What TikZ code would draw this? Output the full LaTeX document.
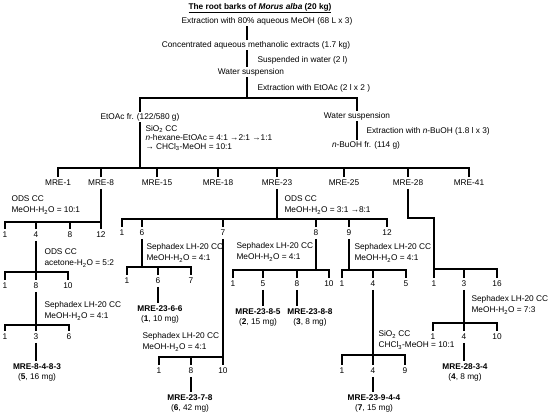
\documentclass[tikz,border=0pt]{standalone}
\usepackage{fontspec}
\setmainfont{Liberation Sans}
\begin{document}
\begin{tikzpicture}[x=1pt,y=-1pt,line width=1.1pt,
    every node/.style={font=\fontsize{8.3}{11}\selectfont,inner sep=1pt},
    txt/.style={anchor=west,align=left},
    num/.style={inner sep=2.5pt},
    cpd/.style={anchor=north,align=center,inner sep=2pt,font=\fontsize{8.3}{10.5}\selectfont}]

\useasboundingbox (0,0) rectangle (550,414);

%draws the extraction steps at the top
\coordinate (spine) at (247,0);
\draw (260,8) node (root) {\textbf{\underline{The root barks of \textit{Morus alba} (20 kg)}}};
\draw (267,21) node (ext1) {Extraction with 80\% aqueous MeOH (68 L x 3)};
\draw (256,45) node (conc) {Concentrated aqueous methanolic extracts (1.7 kg)};
\draw (256,60) node[txt] (susp) {Suspended in water (2 l)};
\draw (251,72) node (ws) {Water suspension};
\draw (256,88) node[txt] (ext2) {Extraction with EtOAc (2 l x 2 )};
\draw (140,117) node (etoac) {EtOAc fr. (122/580 g)};
\draw (357,116) node (wsr) {Water suspension};
\draw (365,131) node[txt] (ext3) {Extraction with \textit{n}-BuOH (1.8 l x 3)};
\draw (366,145) node (buoh) {\textit{n}-BuOH fr. (114 g)};
\draw (144,138) node[txt,font=\fontsize{8.3}{9.2}\selectfont] (csio) {SiO\textsubscript{2} CC\\\textit{n}-hexane-EtOAc = 4:1 →2:1 →1:1\\→ CHCl\textsubscript{3}-MeOH = 10:1};

\coordinate (split) at (247,98);
\draw (ext1.south -| spine) -- (conc.north -| spine);
\draw (conc.south -| spine) -- (ws.north -| spine);
\draw (ws.south -| spine) -- (split);
\draw (etoac.north) |- (split) -| (wsr.north);
\draw (wsr.south) -- (wsr.south |- buoh.north);

%draws the MRE fractions
\coordinate (mre) at (140,168);
\foreach \x/\n in {58/1,101/8,157/15,218/18,277/23,344/25,408/28,469/41}
    \draw (\x,183) node[num] (mre\n) {MRE-\n};
\draw (etoac.south) -- (mre);
\draw (mre1.north) |- (mre) -| (mre41.north);
\foreach \n in {8,15,18,23,25,28}
    \draw (mre\n.north) -- (mre\n.north |- mre);

%MRE-8 branch
\draw (10,205) node[txt] (cm8) {ODS CC\\MeOH-H\textsubscript{2}O = 10:1};
\coordinate (bp) at (101,222);
\foreach \x/\t in {5/1,36/4,70/8,101/12}
    \draw (\x,235) node[num] (p\t) {\t};
\draw (mre8.south) -- (bp);
\draw (p1.north) |- (bp) -| (p12.north);
\foreach \t in {4,8}
    \draw (p\t.north) -- (p\t.north |- bp);

\draw (43,258) node[txt] (cp4) {ODS CC\\acetone-H\textsubscript{2}O = 5:2};
\coordinate (bq) at (36,272);
\foreach \x/\t in {5/1,36/8,68/10}
    \draw (\x,286) node[num] (q\t) {\t};
\draw (p4.south) -- (bq);
\draw (q1.north) |- (bq) -| (q10.north);
\draw (q8.north) -- (q8.north |- bq);

\draw (43,311) node[txt] (cq8) {Sephadex LH-20 CC\\MeOH-H\textsubscript{2}O = 4:1};
\coordinate (br) at (36,325);
\foreach \x/\t in {5/1,36/3,69/6}
    \draw (\x,337) node[num] (r\t) {\t};
\draw (q8.south) -- (br);
\draw (r1.north) |- (br) -| (r6.north);
\draw (r3.north) -- (r3.north |- br);
\draw (37,361) node[cpd] (k5) {\textbf{MRE-8-4-8-3}\\(\textbf{5}, 16 mg)};
\draw (r3.south) -- (r3.south |- k5.north);

%MRE-23 branch
\draw (283,205) node[txt] (cm23) {ODS CC\\MeOH-H\textsubscript{2}O = 3:1 →8:1};
\coordinate (bs) at (277,219);
\foreach \x/\t in {122/1,142/6,223/7,316/8,349/9,387/12}
    \draw (\x,233) node[num] (s\t) {\t};
\draw (mre23.south) -- (bs);
\draw (s1.north) |- (bs) -| (s12.north);
\foreach \t in {6,7,8,9}
    \draw (s\t.north) -- (s\t.north |- bs);

% fraction 6
\draw (145,253) node[txt] (cs6) {Sephadex LH-20 CC\\MeOH-H\textsubscript{2}O = 4:1};
\coordinate (bt) at (142,267);
\foreach \x/\t in {127/1,158/6,191/7}
    \draw (\x,281) node[num] (t\t) {\t};
\draw (s6.south) -- (bt);
\draw (t1.north) |- (bt) -| (t7.north);
\draw (t6.north) -- (t6.north |- bt);
\draw (160,303) node[cpd] (k1) {\textbf{MRE-23-6-6}\\(\textbf{1}, 10 mg)};
\draw (t6.south) -- (t6.south |- k1.north);

% fraction 7
\draw (141,342) node[txt] (cs7) {Sephadex LH-20 CC\\MeOH-H\textsubscript{2}O = 4:1};
\coordinate (bu) at (223,357);
\foreach \x/\t in {159/1,191/8,223/10}
    \draw (\x,371) node[num] (u\t) {\t};
\draw (s7.south) -- (bu);
\draw (u1.north) |- (bu) -| (u10.north);
\draw (u8.north) -- (u8.north |- bu);
\draw (190,392) node[cpd] (k6) {\textbf{MRE-23-7-8}\\(\textbf{6}, 42 mg)};
\draw (u8.south) -- (u8.south |- k6.north);

% fraction 8
\draw (235,252) node[txt] (cs8) {Sephadex LH-20 CC\\MeOH-H\textsubscript{2}O = 4:1};
\coordinate (bv) at (316,270);
\foreach \x/\t in {233/1,263/5,297/8,329/10}
    \draw (\x,284) node[num] (v\t) {\t};
\draw (s8.south) -- (bv);
\draw (v1.north) |- (bv) -| (v10.north);
\foreach \t in {5,8}
    \draw (v\t.north) -- (v\t.north |- bv);
\draw (258,306) node[cpd] (k2) {\textbf{MRE-23-8-5}\\(\textbf{2}, 15 mg)};
\draw (310,306) node[cpd] (k3) {\textbf{MRE-23-8-8}\\(\textbf{3}, 8 mg)};
\draw (v5.south) -- (v5.south |- k2.north);
\draw (v8.south) -- (v8.south |- k3.north);

% fraction 9
\draw (353,253) node[txt] (cs9) {Sephadex LH-20 CC\\MeOH-H\textsubscript{2}O = 4:1};
\coordinate (bw) at (349,270);
\foreach \x/\t in {342/1,373/4,406/5}
    \draw (\x,284) node[num] (w\t) {\t};
\draw (s9.south) -- (bw);
\draw (w1.north) |- (bw) -| (w5.north);
\draw (w4.north) -- (w4.north |- bw);

\draw (377,340) node[txt] (cw4) {SiO\textsubscript{2} CC\\CHCl\textsubscript{3}-MeOH = 10:1};
\coordinate (bx) at (373,355);
\foreach \x/\t in {342/1,373/4,405/9}
    \draw (\x,371) node[num] (x\t) {\t};
\draw (w4.south) -- (bx);
\draw (x1.north) |- (bx) -| (x9.north);
\draw (x4.north) -- (x4.north |- bx);
\draw (374,392) node[cpd] (k7) {\textbf{MRE-23-9-4-4}\\(\textbf{7}, 15 mg)};
\draw (x4.south) -- (x4.south |- k7.north);

%MRE-28 branch
\coordinate (e28) at (434,218);
\coordinate (by) at (434,269);
\foreach \x/\t in {434/1,464/3,497/16}
    \draw (\x,284) node[num] (y\t) {\t};
\draw (mre28.south) |- (e28) -- (by);
\draw (y1.north) |- (by) -| (y16.north);
\draw (y3.north) -- (y3.north |- by);

\draw (470,305) node[txt] (cy3) {Sephadex LH-20 CC\\MeOH-H\textsubscript{2}O = 7:3};
\coordinate (bz) at (464,323);
\foreach \x/\t in {433/1,464/4,497/10}
    \draw (\x,337) node[num] (z\t) {\t};
\draw (y3.south) -- (bz);
\draw (z1.north) |- (bz) -| (z10.north);
\draw (z4.north) -- (z4.north |- bz);
\draw (465,361) node[cpd] (k4) {\textbf{MRE-28-3-4}\\(\textbf{4}, 8 mg)};
\draw (z4.south) -- (z4.south |- k4.north);

\end{tikzpicture}
\end{document}
